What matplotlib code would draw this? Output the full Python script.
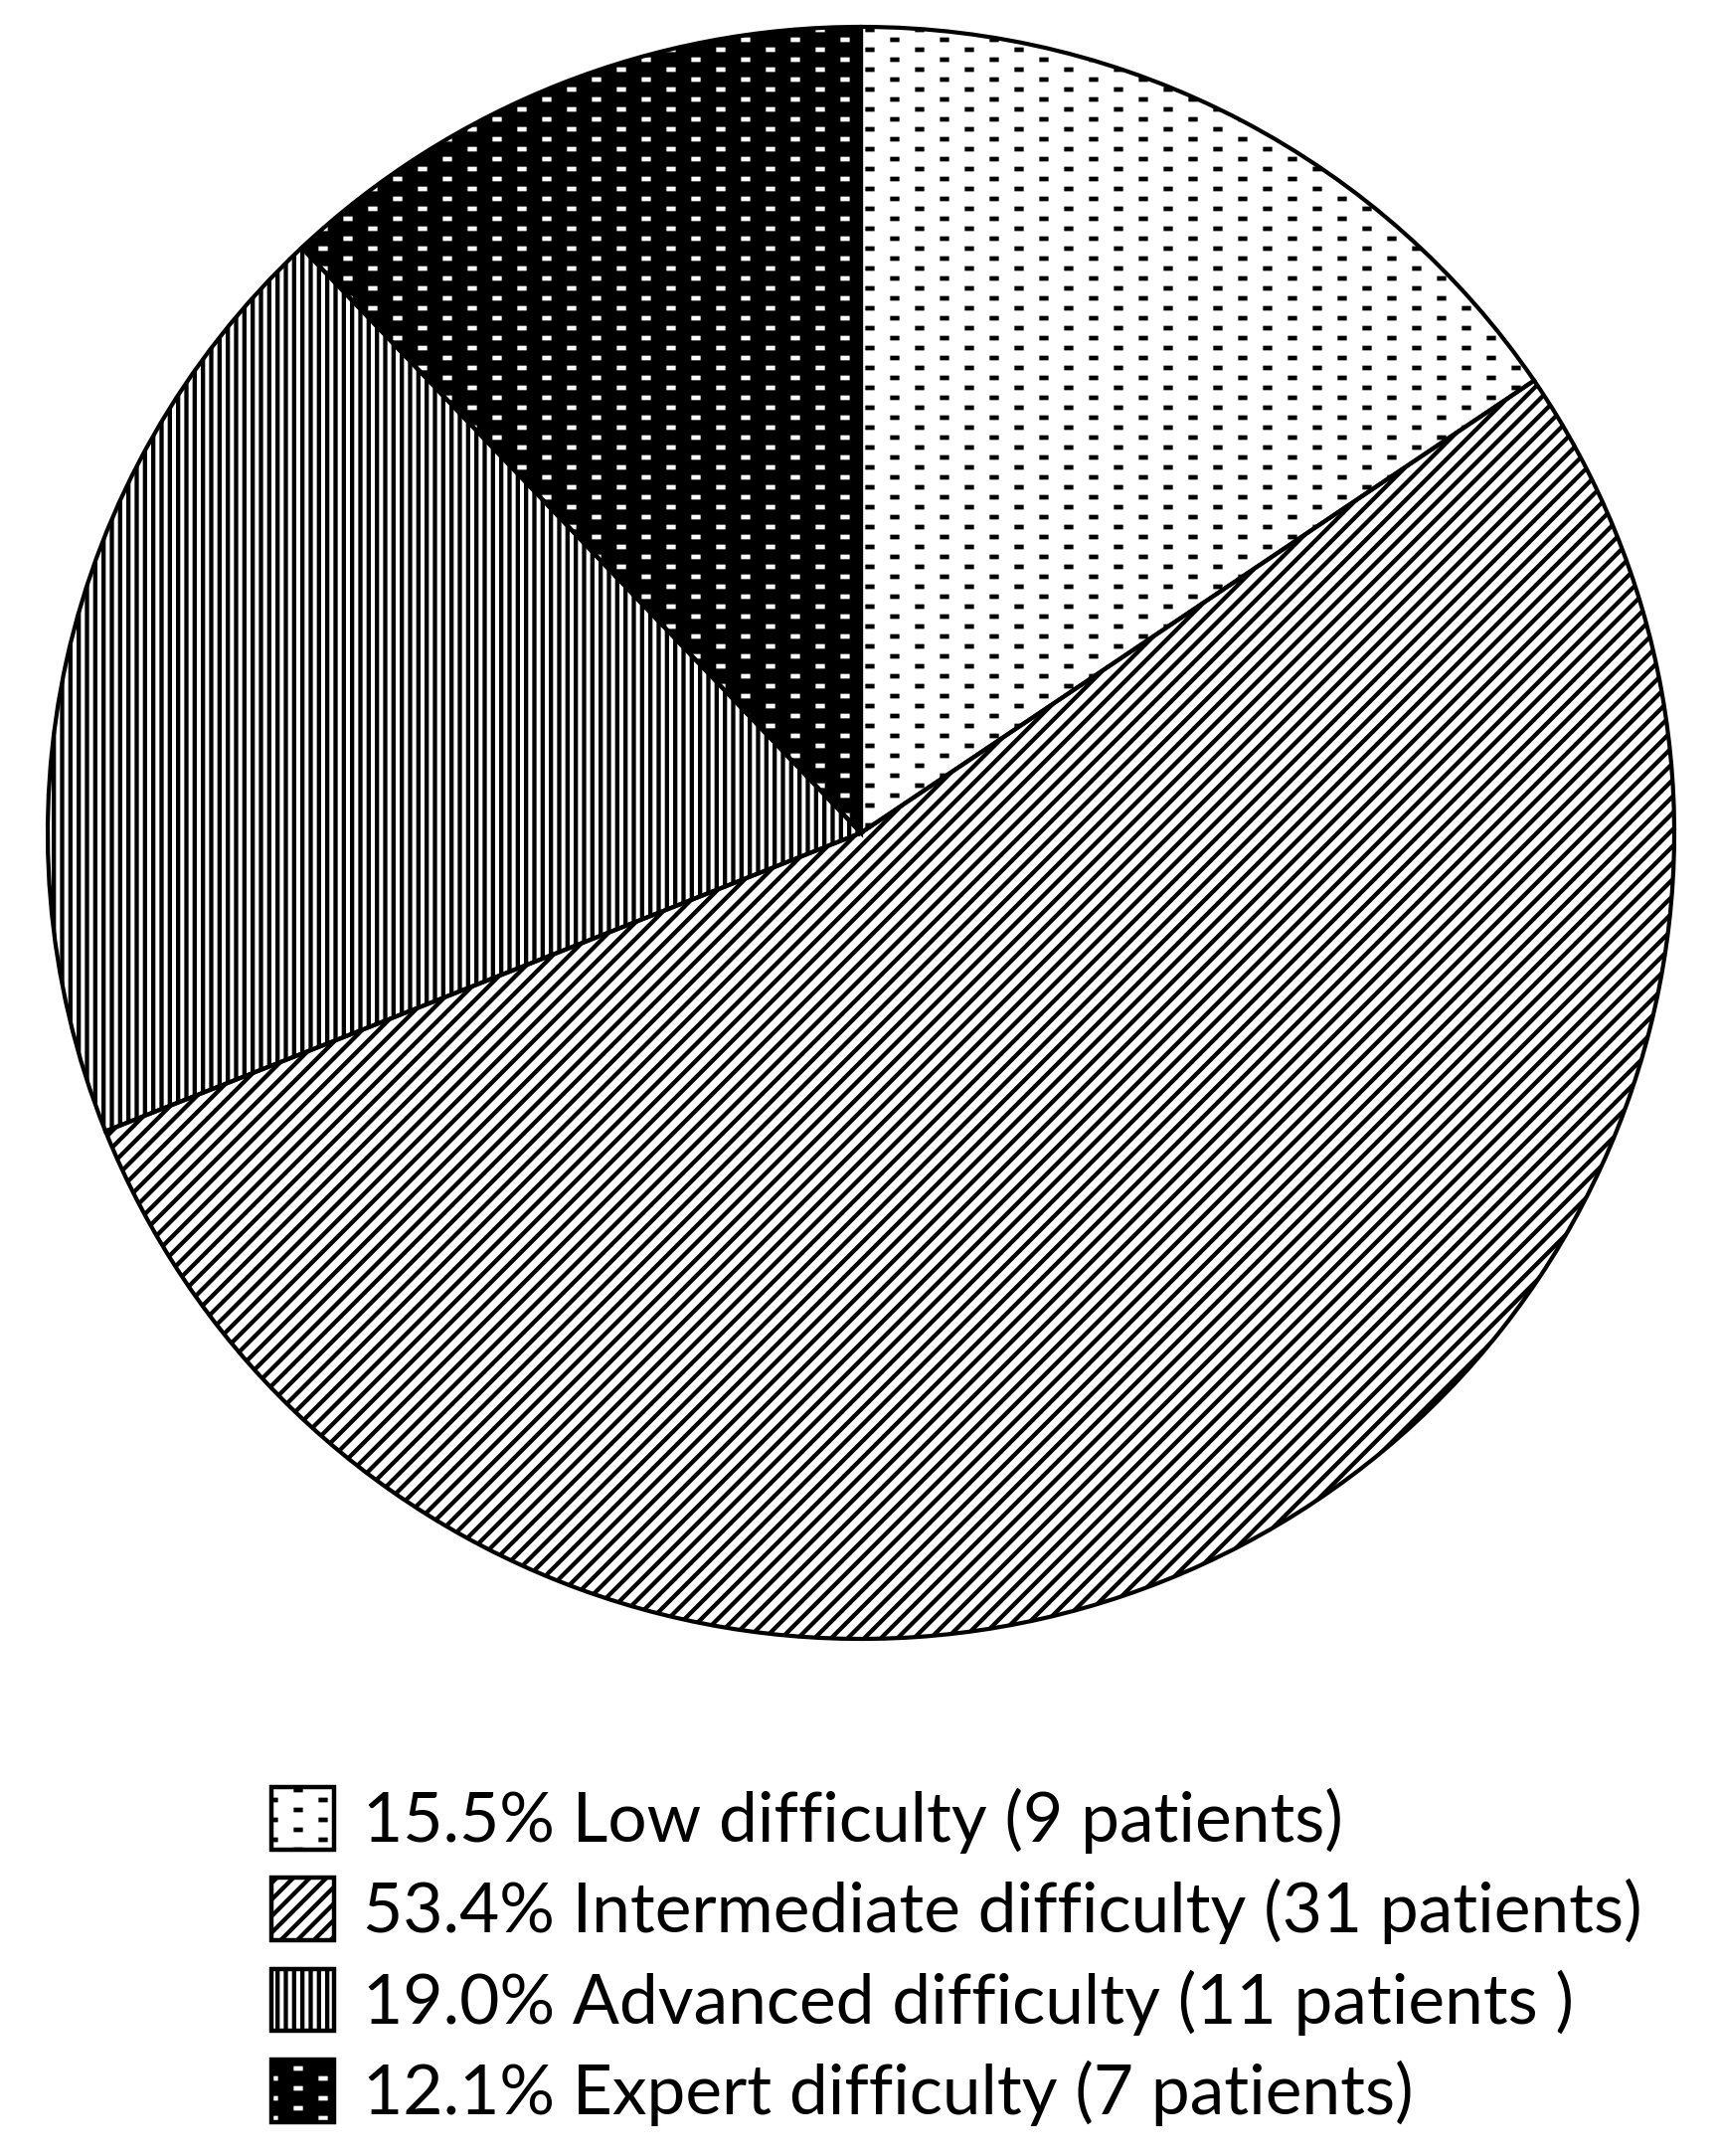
import numpy as np
import matplotlib
matplotlib.use("Agg")
import matplotlib.pyplot as plt
import matplotlib.hatch as mhatch
from matplotlib.path import Path
from matplotlib.patches import Patch
from matplotlib.legend_handler import HandlerTuple

# data
categories = ["Low difficulty", "Intermediate difficulty", "Advanced difficulty", "Expert difficulty"]
patients = [9, 31, 11, 7]
percent_labels = ["15.5%", "53.4%", "19.0%", "12.1%"]
patient_notes = ["(9 patients)", "(31 patients)", "(11 patients )", "(7 patients)"]

# style per slice: face, hatch colour, hatch
FACES = ["white", "white", "white", "black"]
HATCH_COLORS = ["black", "black", "black", "white"]
HATCHES = [".", "//", "||", "."]
HATCH_LW = 3.1


class DashHatch(mhatch.HatchPatternBase):
    """Staggered short horizontal dashes, replaces the '.' dots hatch."""
    rows = 10
    cols = 2
    half_w = 0.025
    half_h = 0.002

    def __init__(self, hatch, density):
        self.on = hatch.count(".") > 0
        self.centers = []
        if self.on:
            for r in range(self.rows + 1):
                y = r / self.rows
                if r % 2 == 0:
                    xs = np.linspace(0, 1, self.cols + 1)
                else:
                    xs = np.arange(self.cols) / self.cols + 0.5 / self.cols
                for x in xs:
                    self.centers.append((x, y))
        self.num_vertices = 5 * len(self.centers)

    def set_vertices_and_codes(self, vertices, codes):
        w, h = self.half_w, self.half_h
        box = np.array([[-w, -h], [w, -h], [w, h], [-w, h], [-w, -h]])
        for i, (x, y) in enumerate(self.centers):
            vertices[5 * i:5 * i + 5] = box + [x, y]
            codes[5 * i:5 * i + 5] = [Path.MOVETO, Path.LINETO, Path.LINETO,
                                      Path.LINETO, Path.CLOSEPOLY]


for i, cls in enumerate(mhatch._hatch_types):
    if cls is mhatch.SmallFilledCircles:
        mhatch._hatch_types[i] = DashHatch

plt.rcParams["hatch.linewidth"] = HATCH_LW
plt.rcParams["font.family"] = ["Lato", "DejaVu Sans"]


def set_hlw(p):
    if hasattr(p, "set_hatch_linewidth"):
        p.set_hatch_linewidth(HATCH_LW)


W, H = 1731, 2168
DPI = 100
fig = plt.figure(figsize=(W / DPI, H / DPI), dpi=DPI)
fig.patch.set_facecolor("white")

# pie area in pixels (slightly padded so the outline is not clipped)
cx, cy, rx, ry = 866, 837.5, 818, 810.5
PAD = 1.03
ax = fig.add_axes([(cx - rx * PAD) / W, (H - cy - ry * PAD) / H,
                   2 * rx * PAD / W, 2 * ry * PAD / H])

wedges, _ = ax.pie(patients, startangle=90, counterclock=False, colors=FACES,
                   hatch=HATCHES, wedgeprops=dict(linewidth=0))
for w, hc in zip(wedges, HATCH_COLORS):
    w.set_edgecolor(hc)
    set_hlw(w)
    w.set_clip_path(w)
# black outlines on top; an almost invisible face keeps agg from clipping the curves
ax.pie(patients, startangle=90, counterclock=False, colors=[(1, 1, 1, 0.002)] * len(patients),
       wedgeprops=dict(edgecolor="black", linewidth=3.0))
ax.set_aspect("auto")
ax.set_xlim(-PAD, PAD)
ax.set_ylim(-PAD, PAD)
ax.axis("off")

handles = []
for face, hc, hatch in zip(FACES, HATCH_COLORS, HATCHES):
    fill_patch = Patch(facecolor=face, edgecolor=hc, hatch=hatch, linewidth=0)
    set_hlw(fill_patch)
    edge_patch = Patch(fill=False, edgecolor="black", linewidth=3.2, joinstyle="round")
    handles.append((fill_patch, edge_patch))
labels = [f"{p} {c} {n}" for p, c, n in zip(percent_labels, categories, patient_notes)]

fs = 50
fs_px = fs * DPI / 72
fig.legend(handles, labels, handler_map={tuple: HandlerTuple(ndivide=1)},
           loc="upper left", bbox_to_anchor=(273 / W, 1 - 1797 / H),
           frameon=False, borderpad=0, borderaxespad=0,
           handlelength=63 / fs_px, handleheight=70 / fs_px,
           handletextpad=29 / fs_px, labelspacing=0.35,
           prop=dict(family=["Lato", "DejaVu Sans"], size=fs))

fig.savefig("out.png", dpi=DPI, facecolor="white")
